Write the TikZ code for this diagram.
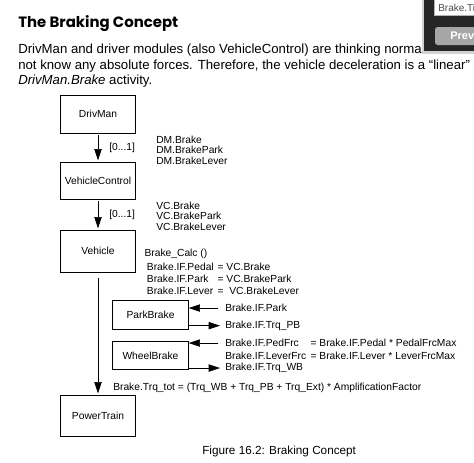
\documentclass[tikz,border=0pt]{standalone}
\usepackage{fontspec}
\setmainfont{Liberation Sans}
\newfontfamily\headfont{Poppins}
\usetikzlibrary{arrows.meta}

\begin{document}
\begin{tikzpicture}[x=0.75pt,y=-0.75pt,>={Triangle[length=8.5pt,width=5.5pt]},
  modbox/.style={draw,line width=0.5pt,minimum width=56pt,minimum height=28.5pt,inner sep=0pt,font=\fontsize{7.7}{9}\selectfont},
  subbox/.style={modbox,minimum width=56.7pt,minimum height=21.5pt},
  sig/.style={anchor=base west,inner sep=0pt,font=\fontsize{7.7}{9}\selectfont},
  para/.style={anchor=base west,inner sep=0pt,font=\fontsize{9.9}{12}\selectfont},
  link/.style={->,line width=0.5pt}]
\useasboundingbox (0,0) rectangle (474,462);
% heading and text
\node[anchor=base west,inner sep=0pt,font=\headfont\bfseries\fontsize{11.2}{14}\selectfont] (title) at (18,27) {The Braking Concept};
\node[para] (line1) at (18,53.5) {DrivMan and driver modules (also VehicleControl) are thinking norma};
\node[para] (line2) at (18,69) {not know any absolute forces. Therefore, the vehicle deceleration is a “linear”};
\node[para] (line3) at (18,84.5) {\textit{DrivMan.Brake} activity.};
% modules
\node[modbox] (drivman) at (98,114) {DrivMan};
\node[modbox,minimum height=27.75pt] (vctrl) at (98,180.5) {VehicleControl};
\node[modbox,minimum height=31.5pt] (vehicle) at (98,251) {Vehicle};
\node[modbox,minimum height=30.75pt] (ptrain) at (98,415.5) {PowerTrain};
\node[subbox] (pbrake) at (150.5,314.7) {ParkBrake};
\node[subbox,minimum height=20.7pt] (wbrake) at (150.5,355.5) {WheelBrake};
% signals
\node[sig] (mult1) at (109,150) {[0...1]};
\node[sig] (mult2) at (109,217.5) {[0...1]};
\node[sig] (dm1) at (156,143.3) {DM.Brake};
\node[sig] (dm2) at (156,153.7) {DM.BrakePark};
\node[sig] (dm3) at (156,164) {DM.BrakeLever};
\node[sig] (vc1) at (156,209) {VC.Brake};
\node[sig] (vc2) at (156,219.5) {VC.BrakePark};
\node[sig] (vc3) at (156,230) {VC.BrakeLever};
\node[sig] (calc) at (144.3,256.6) {Brake\_Calc ()};
\node[sig] (if1) at (146.7,270.6) {\makebox[53pt][l]{Brake.IF.Pedal}= VC.Brake};
\node[sig] (if2) at (146.7,282.3) {\makebox[53pt][l]{Brake.IF.Park}= VC.BrakePark};
\node[sig] (if3) at (146.7,294) {\makebox[53pt][l]{Brake.IF.Lever}=\ \ VC.BrakeLever};
\node[sig] (inpark) at (225,311.7) {Brake.IF.Park};
\node[sig] (outpb) at (225,328.3) {Brake.IF.Trq\_PB};
\node[sig] (infrc) at (225,346.7) {\makebox[64pt][l]{Brake.IF.PedFrc}= Brake.IF.Pedal * PedalFrcMax};
\node[sig] (lvfrc) at (225,359) {\makebox[64pt][l]{Brake.IF.LeverFrc}= Brake.IF.Lever * LeverFrcMax};
\node[sig] (outwb) at (225,370.7) {Brake.IF.Trq\_WB};
\node[sig] (trqtot) at (113,390) {Brake.Trq\_tot = (Trq\_WB + Trq\_PB + Trq\_Ext) * AmplificationFactor};
\node[anchor=base west,inner sep=0pt,font=\fontsize{8.8}{10}\selectfont] (caption) at (202,454) {Figure 16.2: Braking Concept};
% connectors
\draw[link,shorten <=1.5pt,shorten >=1pt] (drivman) -- (vctrl);
\draw[link,shorten <=1.5pt,shorten >=1pt] (vctrl) -- (vehicle);
\draw[link,shorten <=4.5pt,shorten >=1pt] (vehicle) -- (ptrain);
\draw[link,shorten <=5pt] (inpark.west) -- (inpark.west -| pbrake.east);
\draw[link,shorten >=3.75pt] (pbrake.east |- outpb.west) -- (outpb.west);
\draw[link,shorten <=5pt] (infrc.west) -- (infrc.west -| wbrake.east);
\draw[link,shorten >=3.75pt] (wbrake.east |- outwb.west) -- (outwb.west);
% popup in the corner
\begin{scope}
\clip (0,0) rectangle (474,462);
\fill[black!30,opacity=0.6] (422,0) rectangle (480,54);
\fill[black!85] (424,0) rectangle (480,51);
\filldraw[fill=white,draw=black!30] (434,-2) rectangle (480,15.5);
\node[anchor=base west,inner sep=0pt,text=black!70,font=\fontsize{7.5}{9}\selectfont] (field) at (438,11.7) {Brake.Ti};
\fill[black!35,rounded corners=2pt] (435,27) rectangle (482,45);
\node[anchor=base west,inner sep=0pt,text=white,font=\bfseries\fontsize{8.3}{10}\selectfont] (prev) at (450,39.5) {Prev};
\end{scope}
\end{tikzpicture}
\end{document}
